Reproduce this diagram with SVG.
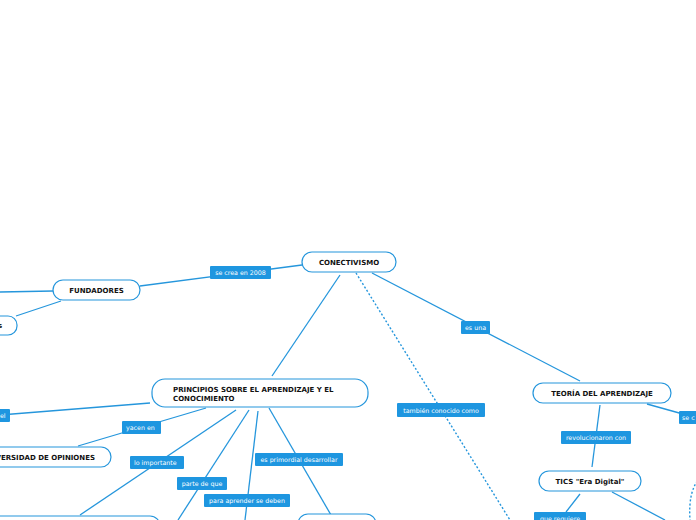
<svg xmlns="http://www.w3.org/2000/svg" width="696" height="520" viewBox="0 0 696 520">
<style>
.n{fill:#fff;stroke:#2596dc;stroke-width:1.2}
.t{font-family:"DejaVu Sans",Verdana,sans-serif;font-size:7px;font-weight:bold;fill:#111}
.l{fill:#1e96e0}
.lt{font-family:"DejaVu Sans",Verdana,sans-serif;font-size:6.3px;fill:#fff}
.c{stroke:#2596dc;stroke-width:1.3;fill:none}
.d{stroke:#2596dc;stroke-width:1.4;fill:none;stroke-dasharray:2 2}
</style>
<rect width="696" height="520" fill="#fff"/>
<g id="connectors">
<line class="c" x1="302" y1="265" x2="140" y2="286"/>
<line class="c" x1="53" y1="291" x2="0" y2="292"/>
<line class="c" x1="61" y1="301" x2="16" y2="316"/>
<line class="c" x1="340" y1="275" x2="272" y2="376"/>
<line class="c" x1="372" y1="273" x2="580" y2="381"/>
<line class="d" x1="356" y1="273" x2="510" y2="520"/>
<line class="c" x1="150" y1="403" x2="0" y2="415"/>
<line class="c" x1="206" y1="408" x2="78" y2="446"/>
<line class="c" x1="236" y1="410" x2="80" y2="515"/>
<line class="c" x1="249" y1="410" x2="178" y2="520"/>
<line class="c" x1="258" y1="411" x2="245" y2="520"/>
<line class="c" x1="269" y1="408" x2="331" y2="515"/>
<line class="c" x1="600" y1="405" x2="592" y2="467"/>
<line class="c" x1="647" y1="404" x2="690" y2="416"/>
<line class="c" x1="580" y1="494" x2="566" y2="512"/>
<line class="c" x1="612" y1="492" x2="665" y2="520"/>
<path class="d" d="M700 478 Q688 490 690 520"/>
</g>
<g id="labels">
<rect class="l" x="210" y="266" width="61" height="13" rx="1"/><text class="lt" x="240.5" y="275" text-anchor="middle">se crea en 2008</text>
<rect class="l" x="461" y="321" width="29" height="13" rx="1"/><text class="lt" x="475.5" y="330" text-anchor="middle">es una</text>
<rect class="l" x="397" y="403" width="88" height="14" rx="1"/><text class="lt" x="441" y="412.5" text-anchor="middle">también conocido como</text>
<rect class="l" x="561" y="431" width="70" height="13" rx="1"/><text class="lt" x="596" y="440" text-anchor="middle">revolucionaron con</text>
<rect class="l" x="679" y="411" width="20" height="13" rx="1"/><text class="lt" x="682" y="420">se c</text>
<rect class="l" x="534" y="512" width="52" height="13" rx="1"/><text class="lt" x="560" y="521" text-anchor="middle">que requiere</text>
<rect class="l" x="-5" y="409" width="15" height="13" rx="1"/><text class="lt" x="0" y="418">el</text>
<rect class="l" x="122" y="421" width="39" height="13" rx="1"/><text class="lt" x="126" y="430">yacen en</text>
<rect class="l" x="130" y="456" width="54" height="13" rx="1"/><text class="lt" x="134" y="465">lo importante</text>
<rect class="l" x="177" y="477" width="50" height="13" rx="1"/><text class="lt" x="202" y="486" text-anchor="middle">parte de que</text>
<rect class="l" x="255" y="453" width="88" height="13" rx="1"/><text class="lt" x="299" y="462" text-anchor="middle">es primordial desarrollar</text>
<rect class="l" x="204" y="494" width="86" height="13" rx="1"/><text class="lt" x="247" y="503" text-anchor="middle">para aprender se deben</text>
</g>
<g id="conectivismo"><rect class="n" x="302" y="252" width="94" height="20" rx="10"/><text class="t" x="349" y="265" text-anchor="middle">CONECTIVISMO</text></g>
<g id="fundadores"><rect class="n" x="53" y="280" width="87" height="20" rx="10"/><text class="t" x="96.5" y="293" text-anchor="middle">FUNDADORES</text></g>
<g id="left-node"><rect class="n" x="-30" y="316" width="47" height="19" rx="9"/><text class="t" x="-2" y="328">s</text></g>
<g id="principios"><rect class="n" x="152" y="379" width="216" height="28" rx="13"/><text class="t" x="173" y="392">PRINCIPIOS SOBRE EL APRENDIZAJE Y EL</text><text class="t" x="173" y="401">CONOCIMIENTO</text></g>
<g id="diversidad"><rect class="n" x="-40" y="447" width="151" height="20" rx="10"/><text class="t" x="95" y="460" text-anchor="end">DIVERSIDAD DE OPINIONES</text></g>
<g id="bottom-left"><rect class="n" x="-10" y="516" width="170" height="20" rx="10"/></g>
<g id="bottom-mid"><rect class="n" x="298" y="514" width="78" height="20" rx="10"/></g>
<g id="teoria"><rect class="n" x="533" y="383" width="138" height="20" rx="10"/><text class="t" x="602" y="395.5" text-anchor="middle">TEORÍA DEL APRENDIZAJE</text></g>
<g id="tics"><rect class="n" x="539" y="471" width="102" height="20" rx="10"/><text class="t" x="590" y="483.5" text-anchor="middle">TICS "Era Digital"</text></g>
</svg>
